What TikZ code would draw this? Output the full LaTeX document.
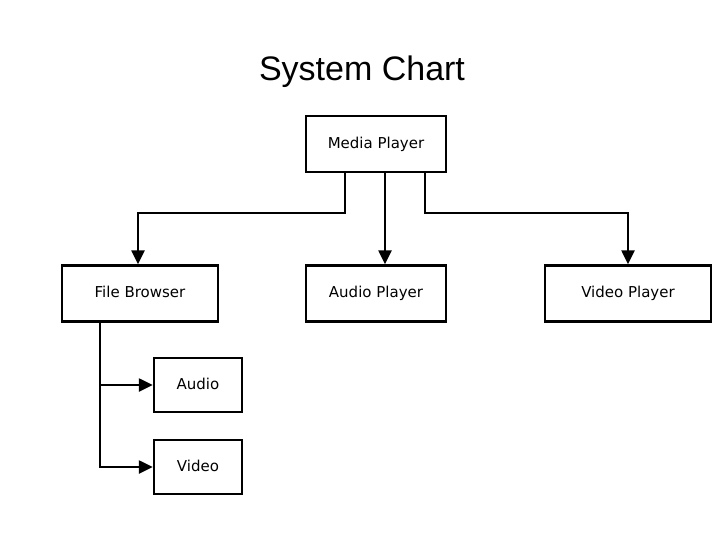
\documentclass[tikz,border=0pt]{standalone}
\usepackage{fontspec}
\setmainfont{DejaVu Sans}
\newfontfamily\titlefont{Liberation Sans}
\usetikzlibrary{arrows.meta}

\begin{document}
\begin{tikzpicture}[x=1pt,y=-1pt,
    box/.style={draw,line width=2.4pt,minimum height=56pt,font=\fontsize{15}{17}\selectfont,inner sep=0pt,text height=11pt,text depth=3pt},
    link/.style={line width=2.4pt,-{Triangle[length=14pt,width=13pt]}}]
			\useasboundingbox (0,0) rectangle (728,546);
			\node[font=\titlefont\fontsize{34}{40}\selectfont] (title) at (362,72) {System Chart};
			\node[box,minimum width=140pt] (media) at (376,144) {Media Player};
			\node[box,minimum width=156pt] (browser) at (140,293.5) {File Browser};
			\node[box,minimum width=140pt] (audioplayer) at (376,293.5) {Audio Player};
			\node[box,minimum width=166pt] (videoplayer) at (628,293.5) {Video Player};
			\node[box,minimum width=88pt,minimum height=54pt] (audio) at (198,385) {Audio};
			\node[box,minimum width=88pt,minimum height=54pt] (video) at (198,467) {Video};
			% tree links
			\draw[link] (media.south -| 345,0) |- (138,213) -- (browser.north -| 138,0);
			\draw[link] (media.south -| 385,0) -- (audioplayer.north -| 385,0);
			\draw[link] (media.south -| 425,0) |- (628,213) -- (videoplayer.north);
			\draw[link] (browser.south -| 100,0) |- (audio.west);
			\draw[link] (browser.south -| 100,0) |- (video.west);
\end{tikzpicture}
\end{document}
